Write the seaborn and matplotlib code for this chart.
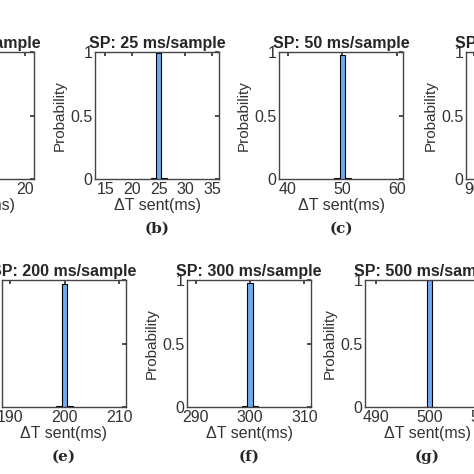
import matplotlib
matplotlib.use("Agg")
import matplotlib.pyplot as plt
import seaborn as sns

sns.set_theme(style="white")
plt.rcParams['font.family'] = ['Liberation Sans', 'DejaVu Sans']

# sampling periods (ms/sample) and histogram data per panel
periods = [10, 25, 50, 100, 200, 300, 500]
panel_tags = ["(a)", "(b)", "(c)", "(d)", "(e)", "(f)", "(g)"]
peak_probs = [0.99, 0.99, 0.98, 0.99, 0.97, 0.98, 1.0]
side_probs = [0.005, 0.005, 0.005, 0.005, 0.008, 0.006, 0.003]
x_limits = [(-1.5, 21.6), (13.1, 36.3), (38.4, 61.1), (88.6, 111.4),
            (188.6, 211.2), (288.4, 311.2), (488.0, 511.0)]
x_ticks = [[0, 10, 20], [15, 20, 25, 30, 35], [40, 50, 60], [90, 100, 110],
           [190, 200, 210], [290, 300, 310], [490, 500, 510]]

W = H = 474
# axes boxes in pixels: left, top, width, height
boxes = [(-90, 52), (95, 52), (279, 52), (466, 52),
         (2, 280), (187, 280), (365, 280)]
aw, ah = 124, 127

fig = plt.figure(figsize=(4.74, 4.74), dpi=100)
for i, sp in enumerate(periods):
    left, top = boxes[i]
    ax = fig.add_axes([left / W, 1 - (top + ah) / H, aw / W, ah / H])
    xs = [sp - 1, sp, sp + 1]
    ws = [side_probs[i], peak_probs[i], side_probs[i]]
    sns.histplot(x=xs, weights=ws, discrete=True, shrink=1.0, color="#72a9f0",
                 edgecolor="black", linewidth=0.8, alpha=1, ax=ax)
    ax.set_xlim(*x_limits[i])
    ax.set_ylim(0, 1)
    ax.set_xticks(x_ticks[i])
    ax.set_yticks([0, 0.5, 1])
    ax.set_yticklabels(["0", "0.5", "1"])
    ax.tick_params(direction="in", top=True, right=True, length=3, labelsize=11.5,
                   colors="#333333", pad=2)
    for s in ax.spines.values():
        s.set_color("#444444")
        s.set_linewidth(1)
    ax.set_title(f"SP: {sp} ms/sample", fontsize=11.5, fontweight="bold", pad=3)
    ax.set_xlabel("ΔT sent(ms)", fontsize=11.5, labelpad=1, color="#333333")
    ax.set_ylabel("Probability", fontsize=11, labelpad=2, color="#333333")
    cx = (left + aw / 2) / W
    cy = 1 - (top + ah + 50) / H
    fig.text(cx, cy, panel_tags[i], ha="center", va="center", fontsize=11,
             fontweight="bold", family="DejaVu Serif")

fig.savefig("out.png", dpi=100)
